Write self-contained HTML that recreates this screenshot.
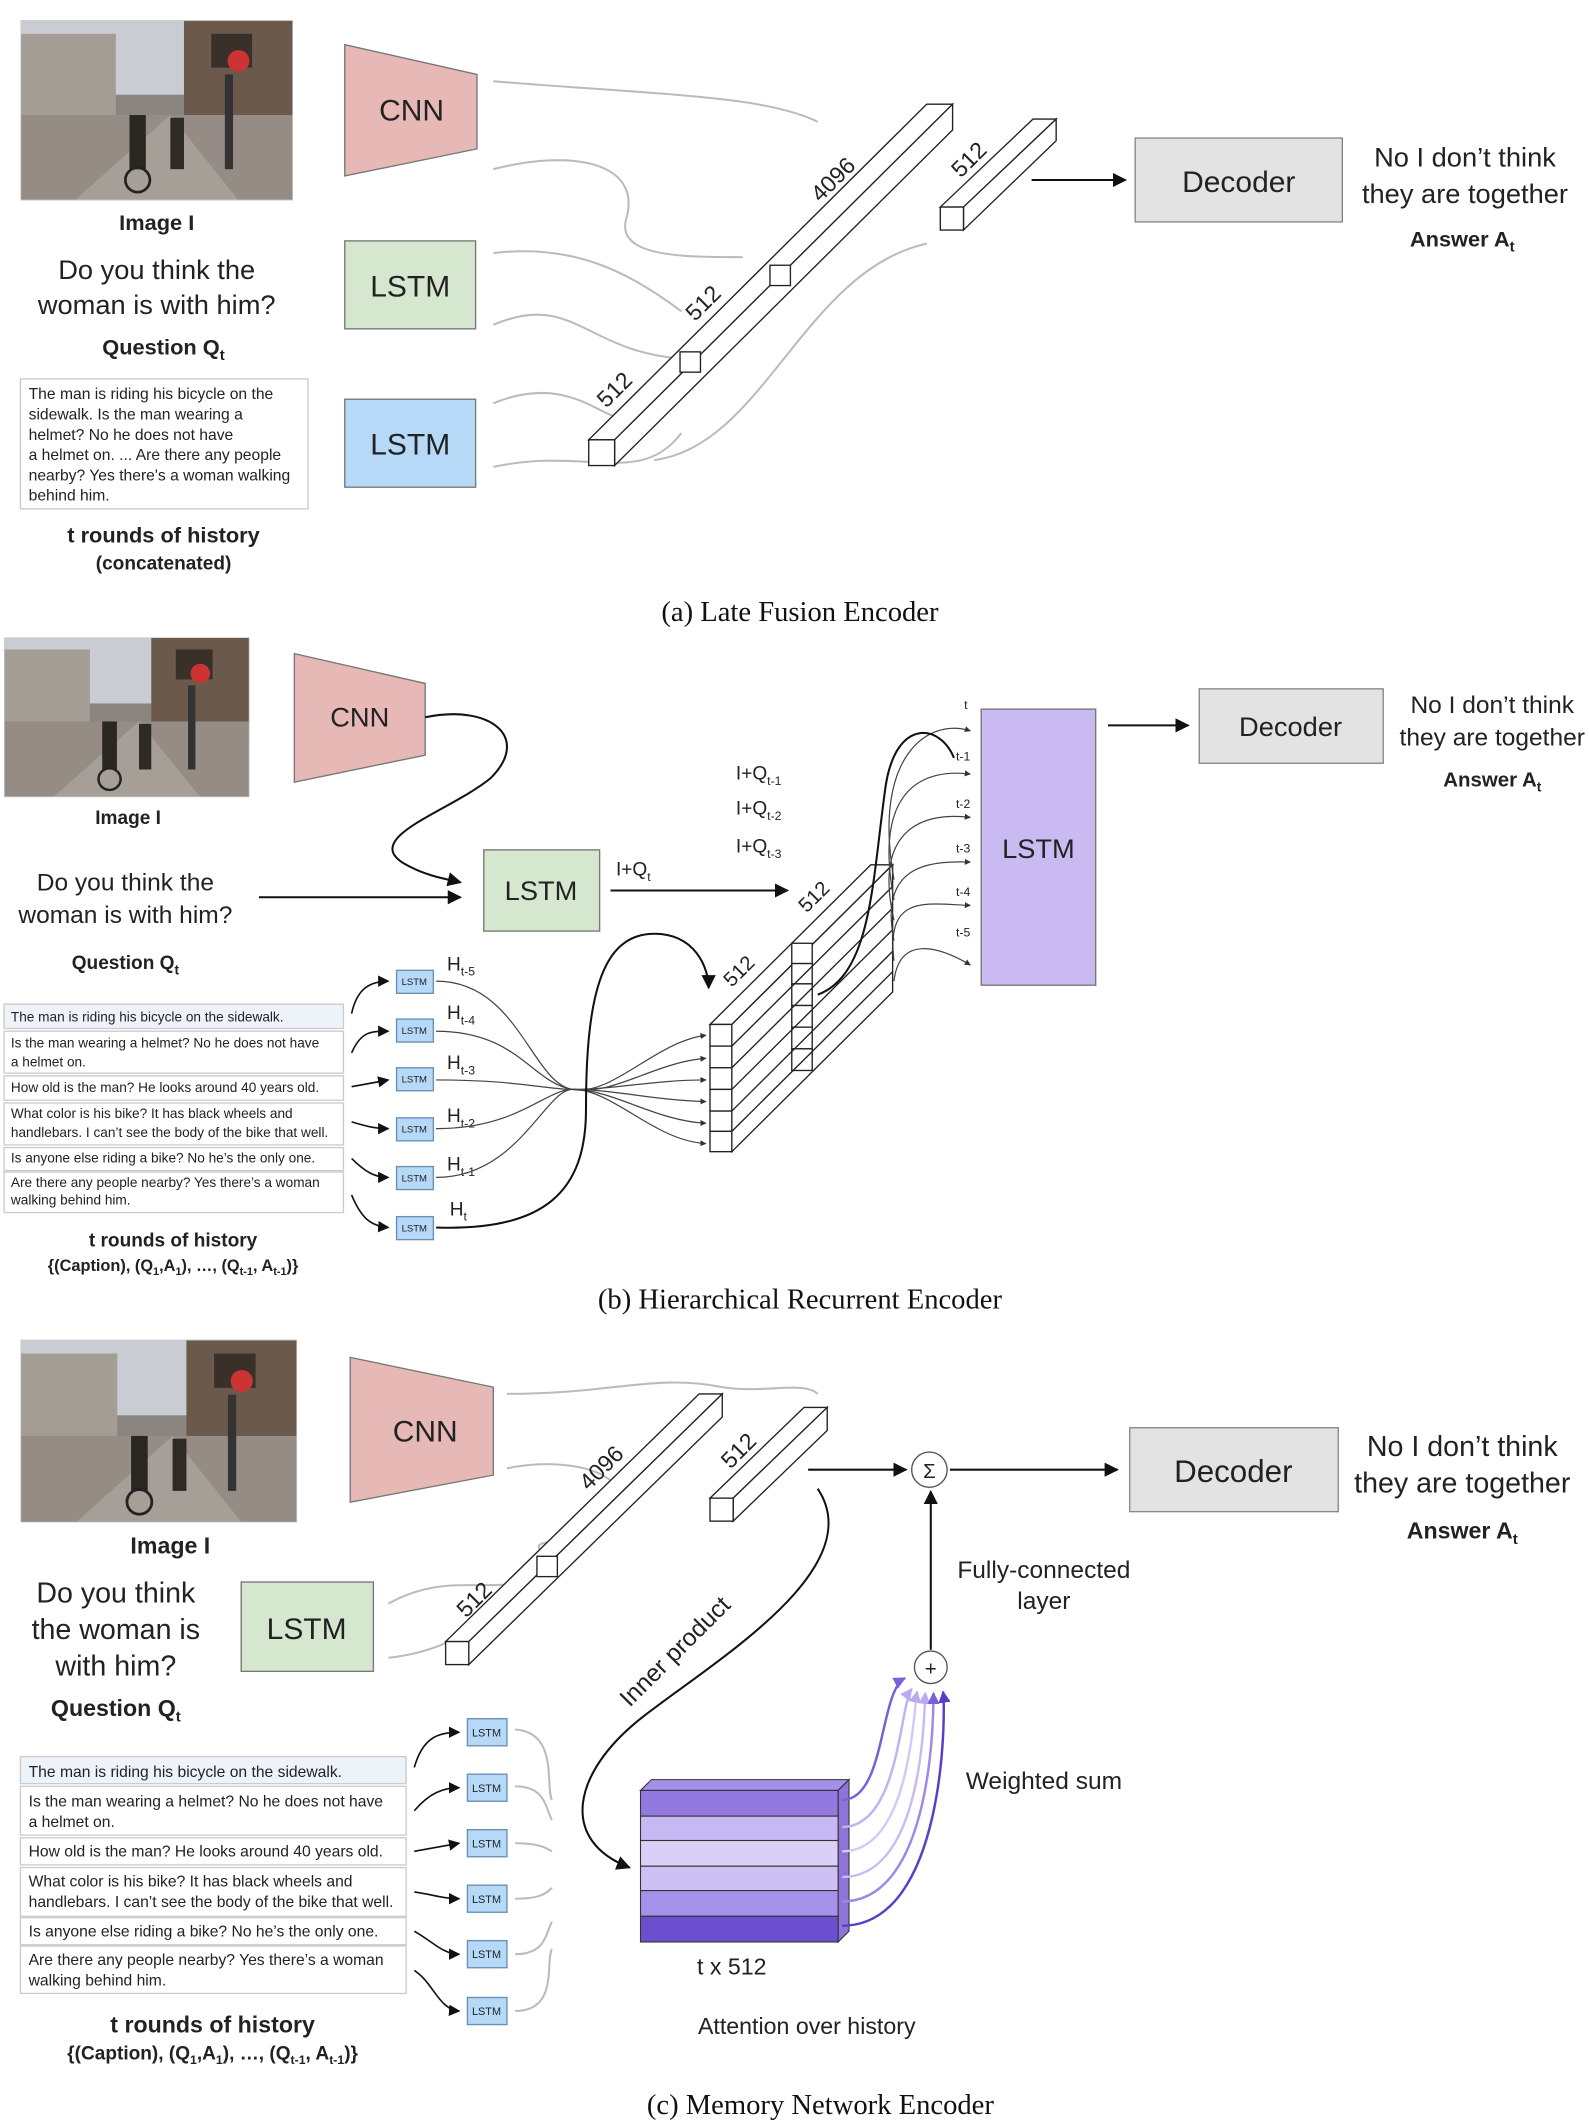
<!DOCTYPE html>
<html><head><meta charset="utf-8"><style>html,body{margin:0;padding:0;background:#fff}svg{display:block}</style></head>
<body>
<svg width="1589" height="2122" viewBox="0 0 1166 1568" preserveAspectRatio="none" xmlns="http://www.w3.org/2000/svg" font-family="Liberation Sans, sans-serif">
<defs>
<symbol id="photo" viewBox="0 0 200 133" preserveAspectRatio="none">
<rect width="200" height="133" fill="#8a8580"/>
<rect width="200" height="55" fill="#c9cdd3"/>
<rect x="0" y="10" width="70" height="60" fill="#a49d95"/>
<rect x="120" y="0" width="80" height="90" fill="#6b5a4c"/>
<rect x="140" y="10" width="30" height="25" fill="#3a302a"/>
<rect x="0" y="70" width="200" height="63" fill="#958d85"/>
<polygon points="40,133 110,70 160,133" fill="#a59f98"/>
<rect x="80" y="70" width="12" height="40" fill="#2a2622"/>
<circle cx="86" cy="118" r="9" fill="none" stroke="#222" stroke-width="2"/>
<rect x="110" y="72" width="10" height="38" fill="#2e2a26"/>
<rect x="150" y="40" width="6" height="70" fill="#333"/>
<circle cx="160" cy="30" r="8" fill="#c33"/>
<rect x="0" y="0" width="200" height="133" fill="none" stroke="#ccc" stroke-width="1"/>
</symbol>
<marker id="ar" viewBox="0 0 10 10" refX="9" refY="5" markerWidth="7" markerHeight="7" orient="auto"><path d="M0,0L10,5L0,10z" fill="#111"/></marker>
<marker id="arg" viewBox="0 0 10 10" refX="9" refY="5" markerWidth="5" markerHeight="5" orient="auto"><path d="M0,0L10,5L0,10z" fill="#333"/></marker>
<marker id="arp1" viewBox="0 0 10 10" refX="9" refY="5" markerWidth="5" markerHeight="5" orient="auto"><path d="M0,0L10,5L0,10z" fill="#7a5fd8"/></marker>
<marker id="arp2" viewBox="0 0 10 10" refX="9" refY="5" markerWidth="5" markerHeight="5" orient="auto"><path d="M0,0L10,5L0,10z" fill="#b9a9ee"/></marker>
<marker id="arp3" viewBox="0 0 10 10" refX="9" refY="5" markerWidth="5" markerHeight="5" orient="auto"><path d="M0,0L10,5L0,10z" fill="#5a3ec7"/></marker>
</defs>
<style>
.g{fill:none;stroke:#bbb;stroke-width:1.5}
.k{fill:none;stroke:#111;stroke-width:1.5}
.t{fill:#222}
.b{font-weight:bold}
.cap{font-family:"Liberation Serif",serif;font-size:21px;fill:#111}
.bar{fill:#fff;stroke:#222;stroke-width:1}
</style>

<!-- ===== (a) ===== -->
<use href="#photo" x="15" y="15" width="200" height="133"/>
<text x="115" y="170" text-anchor="middle" font-size="16" class="t b">Image I</text>
<text x="115" y="206" text-anchor="middle" font-size="20" class="t">Do you think the</text>
<text x="115" y="232" text-anchor="middle" font-size="20" class="t">woman is with him?</text>
<text x="120" y="262" text-anchor="middle" font-size="16" class="t b">Question Q<tspan font-size="11" dy="4">t</tspan></text>
<rect x="15" y="280" width="211" height="96" fill="#fff" stroke="#ccc"/>
<g font-size="11.5" class="t">
<text x="21" y="295">The man is riding his bicycle on the</text>
<text x="21" y="310">sidewalk. Is the man wearing a</text>
<text x="21" y="325">helmet? No he does not have</text>
<text x="21" y="340">a helmet on. ... Are there any people</text>
<text x="21" y="355">nearby? Yes there's a woman walking</text>
<text x="21" y="370">behind him.</text>
</g>
<text x="120" y="401" text-anchor="middle" font-size="16" class="t b">t rounds of history</text>
<text x="120" y="421" text-anchor="middle" font-size="14" class="t b">(concatenated)</text>

<polygon points="253,33 350,55 350,110 253,130" fill="#e6b8b6" stroke="#777"/>
<text x="302" y="89" text-anchor="middle" font-size="22" class="t">CNN</text>
<rect x="253" y="178" width="96" height="65" fill="#d6e7cf" stroke="#777"/>
<text x="301" y="219" text-anchor="middle" font-size="22" class="t">LSTM</text>
<rect x="253" y="295" width="96" height="65" fill="#b7d9f8" stroke="#777"/>
<text x="301" y="336" text-anchor="middle" font-size="22" class="t">LSTM</text>

<path class="g" d="M362,60 C480,70 560,70 600,90"/>
<path class="g" d="M362,125 C420,110 470,120 460,160 C450,190 500,190 545,190"/>
<path class="g" d="M362,187 C420,180 460,200 500,230"/>
<path class="g" d="M362,240 C420,215 430,260 500,265"/>
<path class="g" d="M362,298 C430,270 450,330 470,300"/>
<path class="g" d="M362,345 C430,330 470,360 500,320"/>
<path class="g" d="M480,340 C560,330 590,200 680,180"/>

<polygon class="bar" points="432,325 680,77 699,77 451,325"/>
<polygon class="bar" points="451,325 699,77 699,96 451,344"/>
<rect class="bar" x="432" y="325" width="19" height="19"/>
<rect class="bar" x="565" y="196" width="15" height="15"/>
<rect class="bar" x="499" y="260" width="15" height="15"/>
<g font-size="17" class="t">
<text transform="translate(602,150) rotate(-45)">4096</text>
<text transform="translate(510,238) rotate(-45)">512</text>
<text transform="translate(445,302) rotate(-45)">512</text>
</g>
<polygon class="bar" points="690,153 758,88 775,88 707,153"/>
<polygon class="bar" points="707,153 775,88 775,104 707,170"/>
<rect class="bar" x="690" y="153" width="17" height="17"/>
<text transform="translate(705,132) rotate(-45)" font-size="17" class="t">512</text>
<line class="k" x1="757" y1="133" x2="826" y2="133" marker-end="url(#ar)"/>
<rect x="833" y="102" width="152" height="62" fill="#e3e3e3" stroke="#888"/>
<text x="909" y="142" text-anchor="middle" font-size="22" class="t">Decoder</text>
<text x="1075" y="123" text-anchor="middle" font-size="20" class="t">No I don’t think</text>
<text x="1075" y="150" text-anchor="middle" font-size="20" class="t">they are together</text>
<text x="1073" y="182" text-anchor="middle" font-size="16" class="t b">Answer A<tspan font-size="11" dy="4">t</tspan></text>
<text x="587" y="459" text-anchor="middle" class="cap">(a) Late Fusion Encoder</text>

<!-- ===== (b) ===== -->
<use href="#photo" x="3" y="471" width="180" height="118"/>
<text x="94" y="609" text-anchor="middle" font-size="14" class="t b">Image I</text>
<text x="92" y="658" text-anchor="middle" font-size="18" class="t">Do you think the</text>
<text x="92" y="682" text-anchor="middle" font-size="18" class="t">woman is with him?</text>
<text x="92" y="716" text-anchor="middle" font-size="14" class="t b">Question Q<tspan font-size="10" dy="4">t</tspan></text>
<g stroke="#ccc" fill="#fff">
<rect x="3" y="742" width="249" height="18" fill="#eef3fa"/>
<rect x="3" y="762" width="249" height="31"/>
<rect x="3" y="795" width="249" height="18"/>
<rect x="3" y="815" width="249" height="31"/>
<rect x="3" y="848" width="249" height="17"/>
<rect x="3" y="866" width="249" height="30"/>
</g>
<g font-size="10" class="t">
<text x="8" y="755">The man is riding his bicycle on the sidewalk.</text>
<text x="8" y="774">Is the man wearing a helmet? No he does not have</text>
<text x="8" y="788">a helmet on.</text>
<text x="8" y="807">How old is the man? He looks around 40 years old.</text>
<text x="8" y="826">What color is his bike? It has black wheels and</text>
<text x="8" y="840">handlebars. I can’t see the body of the bike that well.</text>
<text x="8" y="859">Is anyone else riding a bike? No he’s the only one.</text>
<text x="8" y="877">Are there any people nearby? Yes there’s a woman</text>
<text x="8" y="890">walking behind him.</text>
</g>
<text x="127" y="921" text-anchor="middle" font-size="14" class="t b">t rounds of history</text>
<text x="127" y="939" text-anchor="middle" font-size="12" class="t b">{(Caption), (Q<tspan font-size="8" dy="3">1</tspan><tspan dy="-3">,A</tspan><tspan font-size="8" dy="3">1</tspan><tspan dy="-3">), …, (Q</tspan><tspan font-size="8" dy="3">t-1</tspan><tspan dy="-3">, A</tspan><tspan font-size="8" dy="3">t-1</tspan><tspan dy="-3">)}</tspan></text>

<g stroke="#111" fill="none" stroke-width="1.2">
<path d="M258,749 C262,730 272,725 285,725" marker-end="url(#ar)"/>
<path d="M258,778 C265,762 272,762 285,762" marker-end="url(#ar)"/>
<path d="M258,803 L285,798" marker-end="url(#ar)"/>
<path d="M258,829 C268,832 275,834 285,834" marker-end="url(#ar)"/>
<path d="M258,856 C268,866 275,870 285,870" marker-end="url(#ar)"/>
<path d="M258,883 C265,900 272,906 285,907" marker-end="url(#ar)"/>
</g>
<g fill="#b7d9f8" stroke="#6a8fb5">
<rect x="291" y="717" width="27" height="17"/><rect x="291" y="753" width="27" height="17"/>
<rect x="291" y="789" width="27" height="17"/><rect x="291" y="826" width="27" height="17"/>
<rect x="291" y="862" width="27" height="17"/><rect x="291" y="899" width="27" height="17"/>
</g>
<g font-size="7" class="t" text-anchor="middle">
<text x="304" y="728">LSTM</text><text x="304" y="764">LSTM</text><text x="304" y="800">LSTM</text>
<text x="304" y="837">LSTM</text><text x="304" y="873">LSTM</text><text x="304" y="910">LSTM</text>
</g>
<g font-size="14" class="t">
<text x="328" y="717">H<tspan font-size="9" dy="4">t-5</tspan></text>
<text x="328" y="753">H<tspan font-size="9" dy="4">t-4</tspan></text>
<text x="328" y="790">H<tspan font-size="9" dy="4">t-3</tspan></text>
<text x="328" y="829">H<tspan font-size="9" dy="4">t-2</tspan></text>
<text x="328" y="865">H<tspan font-size="9" dy="4">t-1</tspan></text>
<text x="330" y="898">H<tspan font-size="9" dy="4">t</tspan></text>
</g>
<g fill="none" stroke="#444" stroke-width="0.9">
<path d="M320,725 C380,725 390,800 420,805 C450,810 480,770 518,765" marker-end="url(#arg)"/>
<path d="M320,762 C380,762 390,800 420,805 C450,810 480,785 518,782" marker-end="url(#arg)"/>
<path d="M320,798 C380,798 400,805 420,805 C450,805 480,798 518,798" marker-end="url(#arg)"/>
<path d="M320,834 C380,834 400,805 420,805 C450,805 480,813 518,814" marker-end="url(#arg)"/>
<path d="M320,870 C380,870 400,805 420,805 C450,805 480,828 518,830" marker-end="url(#arg)"/>
<path d="M420,805 C450,805 480,843 518,845" marker-end="url(#arg)"/>
</g>
<path class="k" d="M320,907 C400,910 430,880 430,820 C430,740 440,690 480,690 C510,690 520,715 520,730" marker-end="url(#ar)"/>

<polygon points="216,483 312,505 312,558 216,578" fill="#e6b8b6" stroke="#777"/>
<text x="264" y="537" text-anchor="middle" font-size="20" class="t">CNN</text>
<path class="k" d="M312,530 C360,520 390,545 360,575 C330,600 260,620 300,640 C315,648 330,650 338,652" marker-end="url(#ar)"/>
<rect x="355" y="628" width="85" height="60" fill="#d6e7cf" stroke="#777"/>
<text x="397" y="665" text-anchor="middle" font-size="20" class="t">LSTM</text>
<line class="k" x1="190" y1="663" x2="338" y2="663" marker-end="url(#ar)"/>
<line class="k" x1="448" y1="658" x2="578" y2="658" marker-end="url(#ar)"/>
<text x="452" y="647" font-size="14" class="t">I+Q<tspan font-size="9" dy="4">t</tspan></text>

<!-- stack -->
<g class="bar">
<polygon points="521,757 639,639 655,639 537,757"/>
<polygon points="537,757 655,639 655,733 537,851"/>
<rect x="521" y="757" width="16" height="16"/><rect x="521" y="773" width="16" height="16"/>
<rect x="521" y="789" width="16" height="16"/><rect x="521" y="805" width="16" height="16"/>
<rect x="521" y="821" width="16" height="15"/><rect x="521" y="836" width="16" height="15"/>
<rect x="581" y="697" width="15" height="15"/><rect x="581" y="712" width="15" height="15"/>
<rect x="581" y="727" width="15" height="16"/><rect x="581" y="743" width="15" height="16"/>
<rect x="581" y="759" width="15" height="16"/><rect x="581" y="775" width="15" height="16"/>
</g>
<g stroke="#222" stroke-width="1"><line x1="537" y1="773" x2="655" y2="655"/><line x1="537" y1="789" x2="655" y2="671"/><line x1="537" y1="805" x2="655" y2="687"/><line x1="537" y1="821" x2="655" y2="703"/><line x1="537" y1="836" x2="655" y2="718"/></g>
<text transform="translate(537,730) rotate(-45)" font-size="15" class="t">512</text>
<text transform="translate(592,675) rotate(-45)" font-size="15" class="t">512</text>
<g font-size="14" class="t">
<text x="540" y="576">I+Q<tspan font-size="9" dy="4">t-1</tspan></text>
<text x="540" y="602">I+Q<tspan font-size="9" dy="4">t-2</tspan></text>
<text x="540" y="630">I+Q<tspan font-size="9" dy="4">t-3</tspan></text>
</g>
<g fill="none" stroke="#444" stroke-width="0.9">
<path d="M656,650 C640,560 680,530 712,540" marker-end="url(#arg)"/>
<path d="M656,665 C640,580 680,568 712,572" marker-end="url(#arg)"/>
<path d="M656,680 C640,610 680,600 712,604" marker-end="url(#arg)"/>
<path d="M656,695 C645,640 680,636 712,637" marker-end="url(#arg)"/>
<path d="M656,710 C650,660 680,668 712,669" marker-end="url(#arg)"/>
<path d="M656,725 C660,690 690,700 712,713" marker-end="url(#arg)"/>
</g>
<path class="k" d="M600,735 C640,720 640,650 650,580 C658,530 690,535 700,560" stroke-width="1.3"/>
<g font-size="9" class="t" text-anchor="end">
<text x="710" y="524">t</text><text x="712" y="562">t-1</text><text x="712" y="597">t-2</text>
<text x="712" y="630">t-3</text><text x="712" y="662">t-4</text><text x="712" y="692">t-5</text>
</g>
<rect x="720" y="524" width="84" height="204" fill="#c9baf1" stroke="#777"/>
<text x="762" y="634" text-anchor="middle" font-size="20" class="t">LSTM</text>
<line class="k" x1="813" y1="536" x2="872" y2="536" marker-end="url(#ar)"/>
<rect x="880" y="509" width="135" height="55" fill="#e3e3e3" stroke="#888"/>
<text x="947" y="544" text-anchor="middle" font-size="20" class="t">Decoder</text>
<text x="1095" y="527" text-anchor="middle" font-size="18" class="t">No I don’t think</text>
<text x="1095" y="551" text-anchor="middle" font-size="18" class="t">they are together</text>
<text x="1095" y="581" text-anchor="middle" font-size="15" class="t b">Answer A<tspan font-size="10" dy="4">t</tspan></text>
<text x="587" y="967" text-anchor="middle" class="cap">(b) Hierarchical Recurrent Encoder</text>

<!-- ===== (c) ===== -->
<use href="#photo" x="15" y="990" width="203" height="135"/>
<text x="125" y="1148" text-anchor="middle" font-size="17" class="t b">Image I</text>
<text x="85" y="1184" text-anchor="middle" font-size="21" class="t">Do you think</text>
<text x="85" y="1211" text-anchor="middle" font-size="21" class="t">the woman is</text>
<text x="85" y="1238" text-anchor="middle" font-size="21" class="t">with him?</text>
<text x="85" y="1268" text-anchor="middle" font-size="17" class="t b">Question Q<tspan font-size="11" dy="4">t</tspan></text>
<rect x="177" y="1169" width="97" height="66" fill="#d6e7cf" stroke="#777"/>
<text x="225" y="1211" text-anchor="middle" font-size="22" class="t">LSTM</text>
<polygon points="257,1003 362,1025 362,1090 257,1110" fill="#e6b8b6" stroke="#777"/>
<text x="312" y="1065" text-anchor="middle" font-size="22" class="t">CNN</text>
<path class="g" d="M372,1030 C450,1030 480,1015 530,1025 C560,1030 590,1020 600,1030"/>
<path class="g" d="M372,1085 C420,1075 470,1090 450,1120 C430,1150 380,1130 400,1150"/>
<path class="g" d="M285,1185 C330,1160 360,1180 400,1165"/>
<path class="g" d="M285,1225 C330,1220 350,1200 360,1195"/>

<polygon class="bar" points="327,1213 513,1030 530,1030 344,1213"/>
<polygon class="bar" points="344,1213 530,1030 530,1047 344,1230"/>
<rect class="bar" x="327" y="1213" width="17" height="17"/>
<rect class="bar" x="394" y="1150" width="15" height="15"/>
<text transform="translate(432,1102) rotate(-45)" font-size="17" class="t">4096</text>
<text transform="translate(342,1196) rotate(-45)" font-size="17" class="t">512</text>
<polygon class="bar" points="521,1107 590,1040 607,1040 538,1107"/>
<polygon class="bar" points="538,1107 607,1040 607,1057 538,1124"/>
<rect class="bar" x="521" y="1107" width="17" height="17"/>
<text transform="translate(536,1086) rotate(-45)" font-size="17" class="t">512</text>

<line class="k" x1="593" y1="1086" x2="665" y2="1086" marker-end="url(#ar)"/>
<circle cx="682" cy="1086" r="13" fill="#fff" stroke="#555"/>
<text x="682" y="1092" text-anchor="middle" font-size="15" class="t">Σ</text>
<line class="k" x1="697" y1="1086" x2="820" y2="1086" marker-end="url(#ar)"/>
<rect x="829" y="1055" width="153" height="62" fill="#e3e3e3" stroke="#888"/>
<text x="905" y="1095" text-anchor="middle" font-size="23" class="t">Decoder</text>
<text x="1073" y="1076" text-anchor="middle" font-size="21" class="t">No I don’t think</text>
<text x="1073" y="1103" text-anchor="middle" font-size="21" class="t">they are together</text>
<text x="1073" y="1137" text-anchor="middle" font-size="17" class="t b">Answer A<tspan font-size="11" dy="4">t</tspan></text>
<text x="766" y="1166" text-anchor="middle" font-size="18" class="t">Fully-connected</text>
<text x="766" y="1189" text-anchor="middle" font-size="18" class="t">layer</text>
<line class="k" x1="683" y1="1219" x2="683" y2="1102" marker-end="url(#ar)"/>
<circle cx="683" cy="1232" r="12" fill="#fff" stroke="#555"/>
<text x="683" y="1238" text-anchor="middle" font-size="15" class="t">+</text>
<text transform="translate(462,1262) rotate(-45)" font-size="18" class="t">Inner product</text>
<path class="k" d="M600,1100 C640,1160 520,1230 470,1270 C420,1310 410,1360 462,1380" marker-end="url(#ar)"/>

<!-- purple stack -->
<polygon points="470,1323 478,1315 623,1315 615,1323" fill="#a58fe8" stroke="#333" stroke-width="0.8"/>
<polygon points="615,1323 623,1315 623,1427 615,1435" fill="#8c74d8" stroke="#333" stroke-width="0.8"/>
<g stroke="#333" stroke-width="0.8">
<rect x="470" y="1323" width="145" height="19" fill="#9179e0"/>
<rect x="470" y="1342" width="145" height="18" fill="#c6b8f2"/>
<rect x="470" y="1360" width="145" height="19" fill="#d9cff7"/>
<rect x="470" y="1379" width="145" height="18" fill="#cdc1f4"/>
<rect x="470" y="1397" width="145" height="19" fill="#a590ea"/>
<rect x="470" y="1416" width="145" height="19" fill="#6a4fcf"/>
</g>
<g fill="none" stroke-width="1.8">
<path d="M618,1330 C650,1330 645,1250 664,1240" stroke="#7a5fd8" marker-end="url(#arp1)"/>
<path d="M618,1350 C660,1350 660,1260 669,1248" stroke="#c1b3ef" marker-end="url(#arp2)"/>
<path d="M618,1368 C668,1368 670,1265 673,1250" stroke="#d4c9f5" marker-end="url(#arp2)"/>
<path d="M618,1387 C678,1387 678,1265 679,1251" stroke="#c8bbf2" marker-end="url(#arp2)"/>
<path d="M618,1405 C685,1405 685,1265 685,1251" stroke="#9f88e6" marker-end="url(#arp1)"/>
<path d="M618,1423 C694,1423 694,1265 692,1250" stroke="#5a3ec7" marker-end="url(#arp3)"/>
</g>
<text x="766" y="1322" text-anchor="middle" font-size="18" class="t">Weighted sum</text>
<text x="537" y="1459" text-anchor="middle" font-size="17" class="t">t x 512</text>
<text x="592" y="1503" text-anchor="middle" font-size="17" class="t">Attention over history</text>

<g stroke="#ccc" fill="#fff">
<rect x="15" y="1298" width="283" height="20" fill="#eef3fa"/>
<rect x="15" y="1320" width="283" height="36"/>
<rect x="15" y="1358" width="283" height="20"/>
<rect x="15" y="1380" width="283" height="36"/>
<rect x="15" y="1417" width="283" height="20"/>
<rect x="15" y="1438" width="283" height="35"/>
</g>
<g font-size="11.5" class="t">
<text x="21" y="1313">The man is riding his bicycle on the sidewalk.</text>
<text x="21" y="1335">Is the man wearing a helmet? No he does not have</text>
<text x="21" y="1350">a helmet on.</text>
<text x="21" y="1372">How old is the man? He looks around 40 years old.</text>
<text x="21" y="1394">What color is his bike? It has black wheels and</text>
<text x="21" y="1409">handlebars. I can’t see the body of the bike that well.</text>
<text x="21" y="1431">Is anyone else riding a bike? No he’s the only one.</text>
<text x="21" y="1452">Are there any people nearby? Yes there’s a woman</text>
<text x="21" y="1467">walking behind him.</text>
</g>
<text x="156" y="1502" text-anchor="middle" font-size="17" class="t b">t rounds of history</text>
<text x="156" y="1522" text-anchor="middle" font-size="14" class="t b">{(Caption), (Q<tspan font-size="9" dy="3">1</tspan><tspan dy="-3">,A</tspan><tspan font-size="9" dy="3">1</tspan><tspan dy="-3">), …, (Q</tspan><tspan font-size="9" dy="3">t-1</tspan><tspan dy="-3">, A</tspan><tspan font-size="9" dy="3">t-1</tspan><tspan dy="-3">)}</tspan></text>
<g stroke="#111" fill="none" stroke-width="1.2">
<path d="M304,1306 C310,1285 320,1280 337,1280" marker-end="url(#ar)"/>
<path d="M304,1338 C315,1325 325,1321 337,1321" marker-end="url(#ar)"/>
<path d="M304,1368 L337,1362" marker-end="url(#ar)"/>
<path d="M304,1398 C318,1400 325,1403 337,1403" marker-end="url(#ar)"/>
<path d="M304,1427 C318,1435 325,1444 337,1444" marker-end="url(#ar)"/>
<path d="M304,1456 C318,1465 322,1485 337,1486" marker-end="url(#ar)"/>
</g>
<g fill="#b7d9f8" stroke="#6a8fb5">
<rect x="343" y="1270" width="29" height="20"/><rect x="343" y="1311" width="29" height="20"/>
<rect x="343" y="1352" width="29" height="20"/><rect x="343" y="1393" width="29" height="20"/>
<rect x="343" y="1434" width="29" height="20"/><rect x="343" y="1476" width="29" height="20"/>
</g>
<g font-size="8" class="t" text-anchor="middle">
<text x="357" y="1283">LSTM</text><text x="357" y="1324">LSTM</text><text x="357" y="1365">LSTM</text>
<text x="357" y="1406">LSTM</text><text x="357" y="1447">LSTM</text><text x="357" y="1489">LSTM</text>
</g>
<g class="g">
<path d="M378,1278 C410,1280 400,1320 405,1330"/>
<path d="M378,1320 C400,1320 400,1335 405,1345"/>
<path d="M378,1362 C395,1362 400,1365 405,1368"/>
<path d="M378,1403 C395,1403 400,1400 405,1395"/>
<path d="M378,1444 C400,1444 400,1430 405,1420"/>
<path d="M378,1486 C410,1486 400,1450 405,1440"/>
</g>
<text x="602" y="1562" text-anchor="middle" class="cap">(c) Memory Network Encoder</text>
</svg>
</body></html>
